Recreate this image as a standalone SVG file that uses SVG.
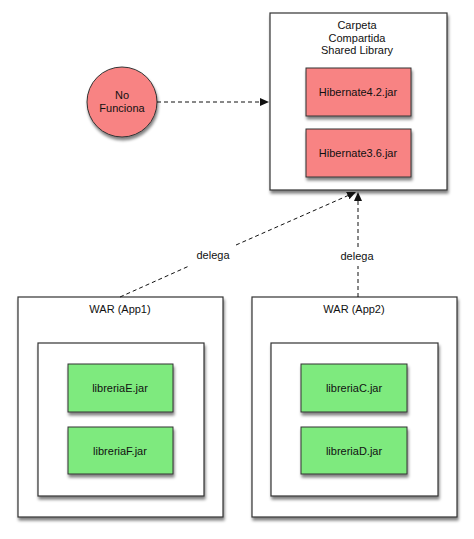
<svg xmlns="http://www.w3.org/2000/svg" width="474" height="539" viewBox="0 0 474 539">
<style>
.box{fill:#fff;stroke:#333;stroke-width:1.2}
.red{fill:#f88383;stroke:#333;stroke-width:1}
.green{fill:#7eea7e;stroke:#333;stroke-width:1}
text{font-family:"Liberation Sans",Arial,sans-serif;font-size:11px;fill:#111;text-anchor:middle}
.conn{stroke:#111;stroke-width:1;fill:none;stroke-dasharray:4,3}
</style>
<defs>
<filter id="sh" x="-10%" y="-10%" width="130%" height="130%">
<feGaussianBlur in="SourceAlpha" stdDeviation="1.5"/>
<feOffset dx="1" dy="3" result="b"/>
<feComponentTransfer><feFuncA type="linear" slope="0.5"/></feComponentTransfer>
<feMerge><feMergeNode/><feMergeNode in="SourceGraphic"/></feMerge>
</filter>
<marker id="ah" markerWidth="10" markerHeight="8" refX="9" refY="4" orient="auto" markerUnits="userSpaceOnUse">
<path d="M0,0 L9,4 L0,8 z" fill="#111"/>
</marker>
</defs>
<g id="shared">
<rect class="box" x="270" y="13" width="177" height="177" filter="url(#sh)"/>
<text x="357" y="29">Carpeta</text>
<text x="357" y="42">Compartida</text>
<text x="357" y="54">Shared Library</text>
</g>
<g id="hib42">
<rect class="red" x="306" y="68" width="105" height="48" filter="url(#sh)"/>
<text x="358" y="96">Hibernate4.2.jar</text>
</g>
<g id="hib36">
<rect class="red" x="306" y="129" width="105" height="48" filter="url(#sh)"/>
<text x="358" y="157">Hibernate3.6.jar</text>
</g>
<g id="nofunciona">
<circle class="red" cx="122" cy="102" r="35" filter="url(#sh)"/>
<text x="122" y="99">No</text>
<text x="122" y="112">Funciona</text>
</g>
<g id="app1">
<rect class="box" x="18" y="297" width="205" height="220" filter="url(#sh)"/>
<text x="120" y="313">WAR (App1)</text>
<rect class="box" x="38" y="343" width="166" height="153" filter="url(#sh)"/>
</g>
<g id="libE">
<rect class="green" x="68" y="364" width="105" height="48" filter="url(#sh)"/>
<text x="120" y="392">libreriaE.jar</text>
</g>
<g id="libF">
<rect class="green" x="68" y="427" width="105" height="47" filter="url(#sh)"/>
<text x="120" y="455">libreriaF.jar</text>
</g>
<g id="app2">
<rect class="box" x="252" y="297" width="205" height="220" filter="url(#sh)"/>
<text x="354" y="313">WAR (App2)</text>
<rect class="box" x="271" y="343" width="167" height="153" filter="url(#sh)"/>
</g>
<g id="libC">
<rect class="green" x="301" y="364" width="106" height="48" filter="url(#sh)"/>
<text x="354" y="392">libreriaC.jar</text>
</g>
<g id="libD">
<rect class="green" x="301" y="427" width="106" height="47" filter="url(#sh)"/>
<text x="354" y="455">libreriaD.jar</text>
</g>
<g id="connectors">
<line class="conn" x1="120" y1="297" x2="188" y2="266.5"/>
<line class="conn" x1="236" y1="245" x2="356" y2="192" marker-end="url(#ah)"/>
<line class="conn" x1="157" y1="102" x2="269" y2="102" marker-end="url(#ah)"/>
<line class="conn" x1="358" y1="297" x2="358" y2="266"/>
<line class="conn" x1="358" y1="247" x2="358" y2="192" marker-end="url(#ah)"/>
<text x="213" y="259">delega</text>
<text x="357" y="260">delega</text>
</g>
</svg>
